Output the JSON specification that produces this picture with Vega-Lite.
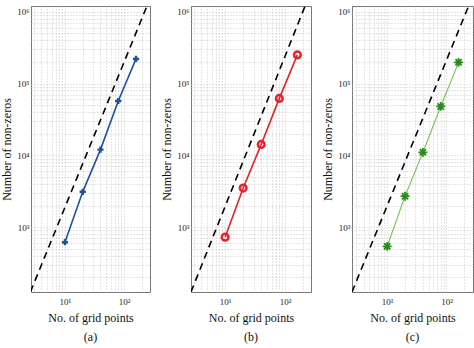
{
  "$schema": "https://vega.github.io/schema/vega-lite/v6.json",
  "background": "white",
  "padding": {"left": 0, "top": 5, "right": 2, "bottom": 0},
  "spacing": 41,
  "bounds": "flush",
  "config": {
    "font": "Liberation Serif",
    "view": {"stroke": "#777777", "strokeWidth": 1},
    "axis": {
      "grid": true, "gridColor": "#bdbdbd", "gridDash": [1, 2], "gridWidth": 0.8,
      "ticks": false, "domain": false, "labelFont": "Liberation Serif", "labelFontSize": 9,
      "labelColor": "#222", "titleFont": "Liberation Serif", "titleFontSize": 12,
      "titleFontWeight": "normal", "titleColor": "#111", "labelOverlap": false
    },
    "title": {"font": "Liberation Serif", "fontSize": 12, "fontWeight": "normal", "color": "#111"}
  },
  "datasets": {
    "pts": [
      {"panel": "a", "N": 10, "nnz": 617},
      {"panel": "a", "N": 20, "nnz": 3100},
      {"panel": "a", "N": 40, "nnz": 12000},
      {"panel": "a", "N": 80, "nnz": 57000},
      {"panel": "a", "N": 160, "nnz": 220000},
      {"panel": "b", "N": 10, "nnz": 725},
      {"panel": "b", "N": 20, "nnz": 3500},
      {"panel": "b", "N": 40, "nnz": 14200},
      {"panel": "b", "N": 80, "nnz": 62000},
      {"panel": "b", "N": 160, "nnz": 250000},
      {"panel": "c", "N": 10, "nnz": 540},
      {"panel": "c", "N": 20, "nnz": 2700},
      {"panel": "c", "N": 40, "nnz": 11000},
      {"panel": "c", "N": 80, "nnz": 48000},
      {"panel": "c", "N": 160, "nnz": 197000}
    ],
    "ref": [
      {"panel": "a", "N": 2.6, "nnz": 125},
      {"panel": "a", "N": 245, "nnz": 1200000},
      {"panel": "b", "N": 2.7, "nnz": 125},
      {"panel": "b", "N": 215, "nnz": 1200000},
      {"panel": "c", "N": 2.55, "nnz": 125},
      {"panel": "c", "N": 236, "nnz": 1200000}
    ]
  },
  "hconcat": [
    {
      "width": 119, "height": 286,
      "title": {"text": "(a)", "orient": "bottom", "offset": 9},
      "encoding": {
        "x": {"field": "N", "type": "quantitative",
          "scale": {"type": "log", "domain": [2.66, 276], "nice": false},
          "axis": {"title": "No. of grid points", "titlePadding": 6, "labelPadding": 5,
            "values": [3,4,5,6,7,8,9,10,20,30,40,50,60,70,80,90,100,200],
            "labelExpr": "datum.value == 10 ? '10¹' : datum.value == 100 ? '10²' : ''"}},
        "y": {"field": "nnz", "type": "quantitative",
          "scale": {"type": "log", "domain": [125, 1200000], "nice": false},
          "axis": {"title": "Number of non-zeros", "titlePadding": 3, "labelPadding": 2,
            "values": [200,300,400,500,600,700,800,900,1000,2000,3000,4000,5000,6000,7000,8000,9000,10000,20000,30000,40000,50000,60000,70000,80000,90000,100000,200000,300000,400000,500000,600000,700000,800000,900000,1000000],
            "labelExpr": "datum.value == 1000 ? '10³' : datum.value == 10000 ? '10⁴' : datum.value == 100000 ? '10⁵' : datum.value == 1000000 ? '10⁶' : ''"}}
      },
      "layer": [
        {"data": {"name": "ref"}, "transform": [{"filter": "datum.panel == 'a'"}],
          "mark": {"type": "line", "color": "black", "strokeDash": [7, 5], "strokeWidth": 1.6, "clip": true}},
        {"data": {"name": "pts"}, "transform": [{"filter": "datum.panel == 'a'"}],
          "mark": {"type": "line", "color": "#1f4fa0", "strokeWidth": 1.6}},
        {"data": {"name": "pts"}, "transform": [{"filter": "datum.panel == 'a'"}],
          "mark": {"type": "point", "shape": "cross", "filled": true, "color": "#1f4fa0", "size": 38, "opacity": 1}}
      ]
    },
    {
      "width": 120, "height": 286,
      "title": {"text": "(b)", "orient": "bottom", "offset": 9},
      "encoding": {
        "x": {"field": "N", "type": "quantitative",
          "scale": {"type": "log", "domain": [2.7, 270], "nice": false},
          "axis": {"title": "No. of grid points", "titlePadding": 6, "labelPadding": 5,
            "values": [3,4,5,6,7,8,9,10,20,30,40,50,60,70,80,90,100,200],
            "labelExpr": "datum.value == 10 ? '10¹' : datum.value == 100 ? '10²' : ''"}},
        "y": {"field": "nnz", "type": "quantitative",
          "scale": {"type": "log", "domain": [125, 1200000], "nice": false},
          "axis": {"title": "Number of non-zeros", "titlePadding": 3, "labelPadding": 2,
            "values": [200,300,400,500,600,700,800,900,1000,2000,3000,4000,5000,6000,7000,8000,9000,10000,20000,30000,40000,50000,60000,70000,80000,90000,100000,200000,300000,400000,500000,600000,700000,800000,900000,1000000],
            "labelExpr": "datum.value == 1000 ? '10³' : datum.value == 10000 ? '10⁴' : datum.value == 100000 ? '10⁵' : datum.value == 1000000 ? '10⁶' : ''"}}
      },
      "layer": [
        {"data": {"name": "ref"}, "transform": [{"filter": "datum.panel == 'b'"}],
          "mark": {"type": "line", "color": "black", "strokeDash": [7, 5], "strokeWidth": 1.6, "clip": true}},
        {"data": {"name": "pts"}, "transform": [{"filter": "datum.panel == 'b'"}],
          "mark": {"type": "line", "color": "#e8222a", "strokeWidth": 1.6}},
        {"data": {"name": "pts"}, "transform": [{"filter": "datum.panel == 'b'"}],
          "mark": {"type": "point", "shape": "circle", "filled": false, "color": "#e8222a", "size": 45, "strokeWidth": 2.5, "opacity": 1}}
      ]
    },
    {
      "width": 121, "height": 286,
      "title": {"text": "(c)", "orient": "bottom", "offset": 9},
      "encoding": {
        "x": {"field": "N", "type": "quantitative",
          "scale": {"type": "log", "domain": [2.55, 280], "nice": false},
          "axis": {"title": "No. of grid points", "titlePadding": 6, "labelPadding": 5,
            "values": [3,4,5,6,7,8,9,10,20,30,40,50,60,70,80,90,100,200],
            "labelExpr": "datum.value == 10 ? '10¹' : datum.value == 100 ? '10²' : ''"}},
        "y": {"field": "nnz", "type": "quantitative",
          "scale": {"type": "log", "domain": [125, 1200000], "nice": false},
          "axis": {"title": "Number of non-zeros", "titlePadding": 3, "labelPadding": 2,
            "values": [200,300,400,500,600,700,800,900,1000,2000,3000,4000,5000,6000,7000,8000,9000,10000,20000,30000,40000,50000,60000,70000,80000,90000,100000,200000,300000,400000,500000,600000,700000,800000,900000,1000000],
            "labelExpr": "datum.value == 1000 ? '10³' : datum.value == 10000 ? '10⁴' : datum.value == 100000 ? '10⁵' : datum.value == 1000000 ? '10⁶' : ''"}}
      },
      "layer": [
        {"data": {"name": "ref"}, "transform": [{"filter": "datum.panel == 'c'"}],
          "mark": {"type": "line", "color": "black", "strokeDash": [7, 5], "strokeWidth": 1.6, "clip": true}},
        {"data": {"name": "pts"}, "transform": [{"filter": "datum.panel == 'c'"}],
          "mark": {"type": "line", "color": "#6cc24a", "strokeWidth": 1.1}},
        {"data": {"name": "pts"}, "transform": [{"filter": "datum.panel == 'c'"}],
          "mark": {"type": "point", "shape": "M-1,0L1,0M0,-1L0,1M-0.7,-0.7L0.7,0.7M-0.7,0.7L0.7,-0.7", "filled": false, "color": "#2a8a1e", "size": 80, "strokeWidth": 1.8, "opacity": 1}}
      ]
    }
  ]
}
